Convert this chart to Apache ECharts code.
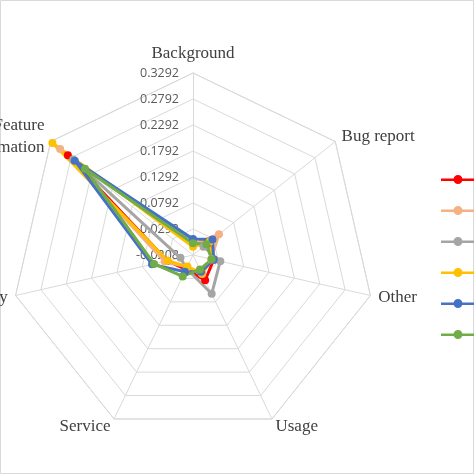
<!DOCTYPE html>
<html>
<head>
<meta charset="utf-8">
<script src="https://cdn.jsdelivr.net/npm/echarts@6/dist/echarts.min.js"></script>
<style>html,body{margin:0;padding:0;background:#fff}#chart{width:474px;height:474px}</style>
</head>
<body>
<div id="chart"></div>
<script>
// indicators in ECharts order (counterclockwise from top)
var indicatorNames = ['Background', 'Feature\ninformation', 'Summary', 'Service', 'Usage', 'Other', 'Bug report'];
var seriesNames = ['Series1', 'Series2', 'Series3', 'Series4', 'Series5', 'Series6'];
var seriesColors = ['#ff0000', '#f4b183', '#a5a5a5', '#ffc000', '#4472c4', '#70ad47'];
var red    = [0.000, 0.287, 0.030, 0.010, 0.033, 0.020, 0.015];
var peach  = [0.000, 0.306, 0.035, 0.005, 0.020, 0.015, 0.043];
var gray   = [0.005, 0.274, 0.004, 0.008, 0.062, 0.033, 0.005];
var yellow = [-0.005, 0.325, 0.029, 0.004, 0.018, 0.018, 0.020];
var blue   = [0.010, 0.270, 0.060, 0.015, 0.015, 0.020, 0.027];
var green  = [0.002, 0.245, 0.056, 0.025, 0.010, 0.016, 0.012];
var values = [red, peach, gray, yellow, blue, green];
var axisMin = -0.0208, axisMax = 0.3292, step = 0.05;

var chart = echarts.init(document.getElementById('chart'));
var series = values.map(function (v, i) {
  return {
    type: 'radar',
    name: seriesNames[i],
    symbol: 'circle',
    symbolSize: 8,
    lineStyle: { width: 3, color: seriesColors[i] },
    itemStyle: { color: seriesColors[i] },
    data: [{ value: v, name: seriesNames[i] }]
  };
});
chart.setOption({
  animation: false,
  graphic: [{ type: 'rect', shape: { x: 0.5, y: 0.5, width: 473, height: 473 },
    style: { fill: 'none', stroke: '#d9d9d9' }, silent: true }],
  legend: {
    orient: 'vertical', left: 436, top: 167, itemWidth: 34, itemHeight: 10, itemGap: 16,
    icon: 'path://M0,4 L34,4 L34,6.5 L0,6.5 Z M17,0.5 A4.5,4.5 0 1 1 17,9.5 A4.5,4.5 0 1 1 17,0.5 Z',
    textStyle: { fontFamily: 'Liberation Serif', fontSize: 15, color: '#404040' },
    data: seriesNames.map(function (n, i) {
      return { name: n, itemStyle: { color: seriesColors[i] } };
    })
  },
  radar: {
    center: [193, 255],
    radius: 182,
    startAngle: 90,
    splitNumber: 7,
    shape: 'polygon',
    indicator: indicatorNames.map(function (n) { return { name: n, min: axisMin, max: axisMax }; }),
    axisName: { color: '#404040', fontFamily: 'Liberation Serif', fontSize: 17, lineHeight: 22 },
    nameGap: 8,
    axisLine: { lineStyle: { color: '#d9d9d9' } },
    splitLine: { lineStyle: { color: '#d9d9d9' } },
    splitArea: { show: false },
    axisTick: { show: false },
    axisLabel: { show: false }
  },
  polar: { center: [193, 255], radius: 182 },
  angleAxis: { show: false, startAngle: 90, min: 0, max: 360 },
  radiusAxis: {
    min: axisMin, max: axisMax, interval: step,
    axisLine: { show: false }, axisTick: { show: false }, splitLine: { show: false },
    axisLabel: {
      show: true, color: '#595959', fontFamily: 'Open Sans', fontSize: 12.5, margin: 14,
      showMaxLabel: true,
      formatter: function (v) { return v.toFixed(4); }
    }
  },
  series: series
});
</script>
</body>
</html>
